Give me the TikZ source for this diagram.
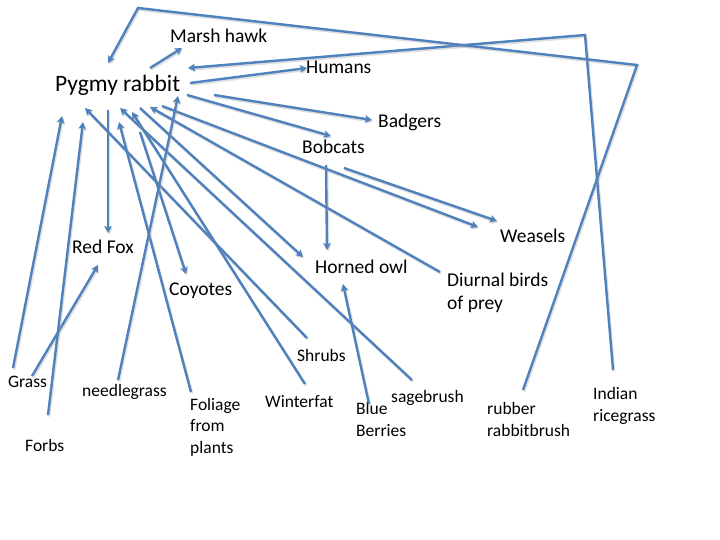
\documentclass[tikz,border=0pt]{standalone}
\usepackage{fontspec}
\setmainfont{Carlito}
\usetikzlibrary{arrows.meta}
\definecolor{linkblue}{HTML}{4F81BD}
\begin{document}
\begin{tikzpicture}[x=1pt,y=-1pt,
  lbl/.style={inner sep=0pt, anchor=base west, align=left, text=black},
  big/.style={lbl, font=\fontsize{23.5}{28}\selectfont},
  med/.style={lbl, font=\fontsize{19.5}{23}\selectfont},
  sml/.style={lbl, font=\fontsize{17.5}{21.5}\selectfont},
  link/.style={draw=linkblue, line width=2.4pt, line join=miter,
    preaction={draw=black!35, opacity=0.35, line width=2.8pt,
      transform canvas={xshift=1pt, yshift=-1.5pt}}},
  arr/.style={link, -{Stealth[length=7pt,width=7.5pt,inset=1.5pt]}}
]
\useasboundingbox (0,0) rectangle (720,540);
\fill[white] (0,0) rectangle (720,540);

% ---- labels (multi-line labels are placed by the baseline of their last line) ----
\node[big] (rab) at (55,92) {Pygmy rabbit};
\node[med] (mh) at (170,43) {Marsh hawk};
\node[med] (hum) at (306,74) {Humans};
\node[med] (bad) at (378,128) {Badgers};
\node[med] (bob) at (302,154) {Bobcats};
\node[med] (wea) at (500,242) {Weasels};
\node[med] (fox) at (72,253) {Red Fox};
\node[med] (owl) at (315,273) {Horned owl};
\node[med] (diu) at (447,309) {Diurnal birds\\of prey};
\node[med] (coy) at (169,295) {Coyotes};
\node[sml] (shr) at (297,361) {Shrubs};
\node[sml] (gra) at (8,387) {Grass};
\node[sml] (nee) at (82,396) {needlegrass};
\node[sml] (frb) at (25,451) {Forbs};
\node[sml] (fol) at (190,453) {Foliage\\from\\plants};
\node[sml] (win) at (265,407) {Winterfat};
\node[sml] (blu) at (356,436) {Blue\\Berries};
\node[sml] (sag) at (391,402) {sagebrush};
\node[sml] (rub) at (487,436) {rubber\\rabbitbrush};
\node[sml] (ind) at (593,421) {Indian\\ricegrass};

% ---- connector end points ----
\coordinate (rab-mh) at (150,68);   \coordinate (mh-in) at (182,48);
\coordinate (rab-hum) at (190,83);  \coordinate (hum-in) at (307,68);
\coordinate (rab-bad) at (214,95);  \coordinate (bad-in) at (372,120);
\coordinate (rab-bob) at (187,95);  \coordinate (bob-in) at (331,136);
\coordinate (bob-owl) at (326,165); \coordinate (owl-in1) at (327,250);
\coordinate (bob-wea) at (344,168); \coordinate (wea-in1) at (497,221);
\coordinate (rab-wea) at (162,106); \coordinate (wea-in2) at (478,227);
\coordinate (diu-out) at (440,272); \coordinate (rab-in1) at (150,107);
\coordinate (rab-owl) at (140,108); \coordinate (owl-in2) at (303,257);
\coordinate (rab-coy) at (140,132); \coordinate (coy-in) at (186,274);
\coordinate (rab-fox) at (108,110); \coordinate (fox-in1) at (108,233);
\coordinate (shr-out) at (307,338); \coordinate (rab-in2) at (85,108);
\coordinate (sag-out) at (412,380); \coordinate (rab-in3) at (120,108);
\coordinate (win-out) at (305,384); \coordinate (rab-in4) at (132,112);
\coordinate (fol-out) at (191,392); \coordinate (rab-in5) at (119,122);
\coordinate (nee-out) at (118,380); \coordinate (rab-in6) at (178,96);
\coordinate (gra-out1) at (13,368); \coordinate (rab-in7) at (62,116);
\coordinate (gra-out2) at (32,376); \coordinate (fox-in2) at (98,265);
\coordinate (frb-out) at (48,415);  \coordinate (rab-in8) at (83,122);
\coordinate (blu-out) at (369,404); \coordinate (owl-in3) at (343,284);
\coordinate (ind-out) at (613,370); \coordinate (ind-bend) at (585,35);
\coordinate (rab-in9) at (188,68);
\coordinate (rub-out) at (523,390); \coordinate (rub-bend1) at (637,65);
\coordinate (rub-bend2) at (138,8);  \coordinate (rab-in10) at (108,63);

% ---- connectors ----
\draw[arr] (rab-mh) -- (mh-in);
\draw[arr] (rab-hum) -- (hum-in);
\draw[arr] (rab-bad) -- (bad-in);
\draw[arr] (rab-bob) -- (bob-in);
\draw[arr] (bob-owl) -- (owl-in1);
\draw[arr] (bob-wea) -- (wea-in1);
\draw[arr] (rab-wea) -- (wea-in2);
\draw[arr] (diu-out) -- (rab-in1);
\draw[arr] (rab-owl) -- (owl-in2);
\draw[arr] (rab-coy) -- (coy-in);
\draw[arr] (rab-fox) -- (fox-in1);
\draw[arr] (shr-out) -- (rab-in2);
\draw[arr] (sag-out) -- (rab-in3);
\draw[arr] (win-out) -- (rab-in4);
\draw[arr] (fol-out) -- (rab-in5);
\draw[arr] (nee-out) -- (rab-in6);
\draw[arr] (gra-out1) -- (rab-in7);
\draw[arr] (gra-out2) -- (fox-in2);
\draw[arr] (frb-out) -- (rab-in8);
\draw[arr] (blu-out) -- (owl-in3);
\draw[arr] (ind-out) -- (ind-bend) -- (rab-in9);
\draw[arr] (rub-out) -- (rub-bend1) -- (rub-bend2) -- (rab-in10);
\end{tikzpicture}
\end{document}
